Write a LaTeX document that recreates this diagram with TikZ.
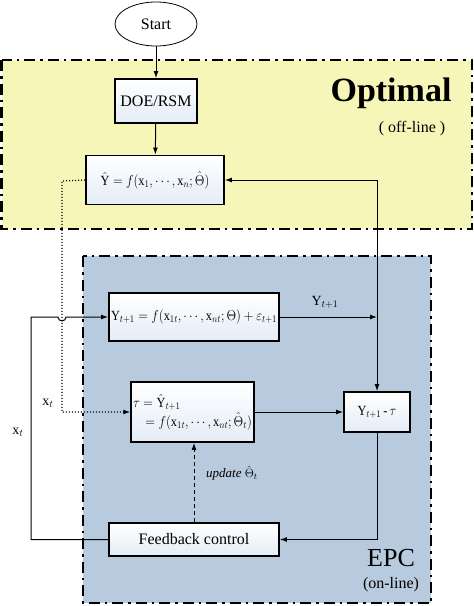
\documentclass[tikz,border=0pt]{standalone}
\usepackage{fontspec}
\setmainfont{Liberation Serif}
\usetikzlibrary{arrows.meta,shapes.geometric,calc}
\definecolor{optyellow}{RGB}{246,246,184}
\definecolor{epcblue}{RGB}{184,202,222}
\definecolor{boxtint}{RGB}{228,236,246}
\newcommand{\narrow}[1]{\scalebox{0.88}[1]{#1}}
\tikzset{
  region/.style={line width=2.8pt,dash pattern=on 11pt off 5pt on 2.5pt off 5pt},
  procbox/.style={draw,line width=1.8pt,rectangle,top color=white,bottom color=boxtint,inner sep=2pt,font=\fontsize{14}{17}\selectfont},
  conn/.style={line width=1pt,-{Latex[length=7pt,width=5pt]}},
  lbl/.style={font=\fontsize{14}{16}\selectfont,inner sep=0pt}
}
\begin{document}
\begin{tikzpicture}[x=1pt,y=-1pt]
\useasboundingbox (0,0) rectangle (474,606);
% regions
\fill[optyellow] (1.5,60) rectangle (472,229);
\draw[region] (1.5,60) rectangle (472,229);
\fill[epcblue] (83,256) rectangle (431,603);
\draw[region] (83,256) rectangle (431,603);
% titles
\node[font=\bfseries\fontsize{34}{36}\selectfont,inner sep=0pt] (opt) at (391,93) {Optimal};
\node[font=\fontsize{16}{18}\selectfont,inner sep=0pt] (offl) at (412,129) {( off-line )};
\node[font=\fontsize{26}{28}\selectfont,inner sep=0pt] (epc) at (391,558) {EPC};
\node[font=\fontsize{16}{18}\selectfont,inner sep=0pt] (onl) at (391,585) {(on-line)};
% nodes
\node[draw,line width=0.8pt,ellipse,fill=white,minimum width=82pt,minimum height=44pt,font=\fontsize{16}{18}\selectfont,inner sep=0pt] (start) at (156,24) {Start};
\node[procbox,minimum width=82pt,minimum height=44pt,font=\fontsize{16}{18}\selectfont] (doe) at (156,101) {DOE/RSM};
\node[procbox,minimum width=138pt,minimum height=49pt] (yhat) at (155,180) {\narrow{$\hat{\mathrm{Y}} = f(\mathrm{x}_1,\cdots,\mathrm{x}_n;\hat{\Theta})$}};
\node[procbox,minimum width=170pt,minimum height=48pt] (ybox) at (194,317) {\narrow{$\mathrm{Y}_{t+1} = f(\mathrm{x}_{1t},\cdots,\mathrm{x}_{nt};\Theta)+\varepsilon_{t+1}$}};
\node[procbox,minimum width=121pt,minimum height=60pt,align=left] (tau) at (192.5,412) {\narrow{$\tau = \hat{\mathrm{Y}}_{t+1}$}\\[2pt]\narrow{$\quad = f(\mathrm{x}_{1t},\cdots,\mathrm{x}_{nt};\hat{\Theta}_t)$}};
\node[procbox,minimum width=66pt,minimum height=40pt] (ymt) at (377,412) {\narrow{$\mathrm{Y}_{t+1}\,\mbox{-}\,\tau$}};
\node[procbox,minimum width=170pt,minimum height=33pt,font=\fontsize{16}{18}\selectfont] (fb) at (194,539.5) {Feedback control};
% coordinates
\coordinate (jy) at (377,317);
\coordinate (dl) at (62,181);
\coordinate (xl) at (31,539.5);
% connectors
\draw[conn] (start) -- (doe);
\draw[conn] (doe) -- (yhat);
\draw[conn] (ybox.east) -- (jy);
\draw[conn] (jy) |- (yhat.east);
\draw[conn] (jy) -- (ymt.north);
\draw[conn,dotted,line width=1.2pt] (yhat.west) -- (dl) |- (tau.west);
\draw[conn] (tau.east) -- (ymt.west);
\draw[conn] (ymt.south) |- (fb.east);
\draw[conn,dash pattern=on 4.5pt off 2.5pt] (fb.north) -- (fb.north |- tau.south);
\draw[conn] (fb.west) -- (xl) -- (31,317) -- (58,317) arc[start angle=180,end angle=0,radius=4] -- (ybox.west);
% labels
\node[lbl] (ylab) at (325,302) {$\mathrm{Y}_{t+1}$};
\node[lbl] (xlab1) at (48,403) {$\mathrm{x}_t$};
\node[lbl] (xlab2) at (18,432) {$\mathrm{x}_t$};
\node[lbl,font=\fontsize{13}{15}\selectfont] (upd) at (232,473) {\textit{update} $\hat{\Theta}_t$};
\end{tikzpicture}
\end{document}
